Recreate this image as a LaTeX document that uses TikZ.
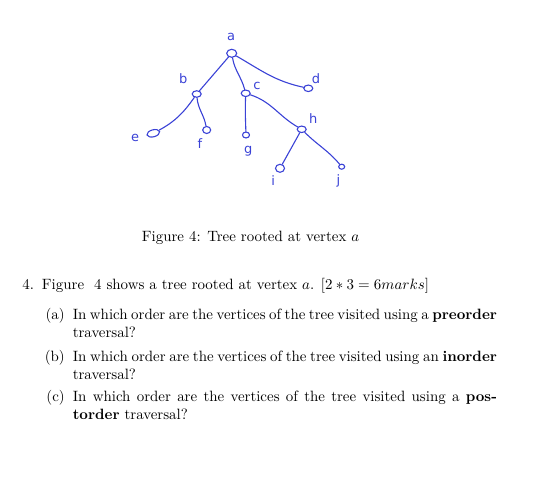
\documentclass[tikz,border=0pt]{standalone}
\usepackage{fontspec}
\newfontfamily\handfont{DejaVu Sans}
\usetikzlibrary{shapes.geometric}
\definecolor{ink}{RGB}{58,66,214}
\tikzset{
  vtx/.style={draw=ink, ellipse, line width=1.1pt, inner sep=0pt, minimum width=9pt, minimum height=6.5pt},
  vlab/.style={text=ink, font=\handfont\fontsize{13}{13}\selectfont, inner sep=0pt},
  edge/.style={draw=ink, line width=1.1pt, line cap=round},
  txt/.style={inner sep=0pt, scale=1.364, font=\fontsize{10.95}{13.6}\selectfont},
}
\begin{document}
\begin{tikzpicture}[x=1pt, y=-1pt]
\useasboundingbox (0,0) rectangle (545,478);
% tree vertices
\node[vtx, minimum width=10pt, minimum height=8pt] (na) at (231.7,53.3) {};
\node[vtx] (nb) at (196.7,94) {};
\node[vtx] (nc) at (245.7,93.3) {};
\node[vtx] (nd) at (308.3,88.3) {};
\node[vtx, minimum width=13pt, minimum height=7pt, rotate=15] (ne) at (153.3,133.3) {};
\node[vtx, minimum width=8pt, minimum height=7pt] (nf) at (206.7,130) {};
\node[vtx, minimum width=7pt, minimum height=6pt] (ng) at (246,135) {};
\node[vtx] (nh) at (301.7,129.3) {};
\node[vtx, minimum width=9pt, minimum height=8pt] (ni) at (280,168.3) {};
\node[vtx, minimum width=6pt, minimum height=5pt] (nj) at (341.7,166.7) {};
% vertex letters
\node[vlab] (la) at (231,37) {a};
\node[vlab] (lb) at (183.3,79) {b};
\node[vlab] (lc) at (257,86) {c};
\node[vlab] (ld) at (316,79) {d};
\node[vlab] (le) at (135,138) {e};
\node[vlab] (lf) at (200,143.5) {f};
\node[vlab] (lg) at (248.3,151) {g};
\node[vlab] (lh) at (313.3,119) {h};
\node[vlab] (li) at (273.3,181) {i};
\node[vlab] (lj) at (338.3,181) {j};
% tree edges
\draw[edge] (na) -- (nb);
\draw[edge] (na) to[out=-80, in=105] (nc);
\draw[edge] (na) to[out=-30, in=168] (nd);
\draw[edge] (nb) to[out=-125, in=25] (ne);
\draw[edge] (nb) to[out=-85, in=100] (nf);
\draw[edge] (nc) to[out=-92, in=92] (ng);
\draw[edge] (nc) to[out=-18, in=150] (nh);
\draw[edge] (nh) -- (ni);
\draw[edge] (nh) to[out=-45, in=130] (nj);
% caption
\node[txt, anchor=base] (cap) at (250.6,241.7) {Figure 4: Tree rooted at vertex $a$};
% question
\node[txt, anchor=base east] (q4) at (34.2,289) {4.};
\node[txt, anchor=base west] (q4t) at (41.7,289) {Figure\ \ 4 shows a tree rooted at vertex $a$. $[2*3 = 6marks]$};
\node[txt, anchor=base east] (qa) at (65,319.3) {(a)};
\node[txt, anchor=base west] (qa1) at (72.5,319.3) {\makebox[311pt][s]{In which order are the vertices of the tree visited using a \textbf{preorder}}};
\node[txt, anchor=base west] (qa2) at (72.5,337.6) {traversal?};
\node[txt, anchor=base east] (qb) at (65,361) {(b)};
\node[txt, anchor=base west] (qb1) at (72.5,361) {\makebox[311pt][s]{In which order are the vertices of the tree visited using an \textbf{inorder}}};
\node[txt, anchor=base west] (qb2) at (72.5,379.3) {traversal?};
\node[txt, anchor=base east] (qc) at (65,401.5) {(c)};
\node[txt, anchor=base west] (qc1) at (72.5,401.5) {\makebox[311pt][s]{In which order are the vertices of the tree visited using a \textbf{pos-}}};
\node[txt, anchor=base west] (qc2) at (72.5,419.8) {\textbf{torder} traversal?};
\end{tikzpicture}
\end{document}
